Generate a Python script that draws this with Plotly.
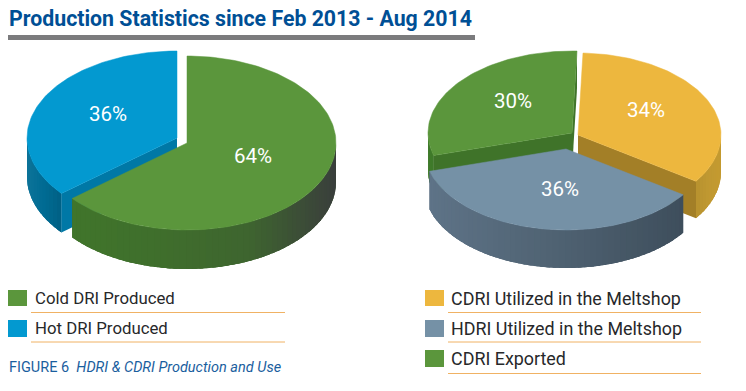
import math
import plotly.graph_objects as go

TITLE = "Production Statistics since Feb 2013 - Aug 2014"
CAPTION_HEAD = "FIGURE 6"
CAPTION_TAIL = "HDRI &amp; CDRI Production and Use"

left_labels = ["Cold DRI Produced", "Hot DRI Produced"]
left_values = [64, 36]
right_labels = ["CDRI Utilized in the Meltshop", "HDRI Utilized in the Meltshop", "CDRI Exported"]
right_values = [34, 36, 30]

FONT = "Roboto"
W, H = 746, 391

# style per slice: centre, radii, depth, top colour, face colour, wall gradient, label position
left_style = [
    dict(c=(187, 143), r=(149, 87), d=39, top="#5b963c", face="#3f7329",
         wall=["#40752b", "#3f6e2c", "#3e652f", "#3a3e3c"], label=(253, 156)),
    dict(c=(177, 138), r=(150, 87), d=39, top="#0399d0", face="#0078a6",
         wall=["#0d7399", "#006b93", "#006084"], label=(108, 114)),
]
right_style = [
    dict(c=(578, 135), r=(143, 82), d=37, top="#edb73e", face="#a37f27",
         wall=["#b8922f", "#c09831", "#c49a30"], label=(646, 110)),
    dict(c=(566, 149), r=(142, 81), d=38, top="#7591a6", face="#5e7387",
         wall=["#5e7387", "#4f6272", "#3e4e5c"], label=(560, 189)),
    dict(c=(572, 133), r=(144, 82), d=37, top="#5b963c", face="#3f7329",
         wall=["#3f7a2a", "#3f7a2a"], label=(513, 101)),
]
left_colors = ["#5b963c", "#0399d0"]
right_colors = ["#edb73e", "#7591a6", "#5b963c"]


def pt(s, a, dz=0):
    t = math.radians(a)
    return (s["c"][0] + s["r"][0] * math.sin(t), s["c"][1] - s["r"][1] * math.cos(t) + dz)


def hex2rgb(h):
    return [int(h[i:i + 2], 16) for i in (1, 3, 5)]


def ramp(stops, f):
    f = max(0, min(1, f)) * (len(stops) - 1)
    i = min(int(f), len(stops) - 2)
    a, b = hex2rgb(stops[i]), hex2rgb(stops[i + 1])
    m = f - i
    return "rgb(%d,%d,%d)" % tuple(round(a[k] + (b[k] - a[k]) * m) for k in range(3))


def poly(fig, pts, color, lw=0.0):
    xs = [p[0] for p in pts] + [pts[0][0]]
    ys = [p[1] for p in pts] + [pts[0][1]]
    fig.add_trace(go.Scatter(x=xs, y=ys, mode="lines", fill="toself", fillcolor=color,
                             line=dict(color=color, width=lw), hoverinfo="skip", showlegend=False))


def arc(s, a0, a1, dz=0):
    n = max(2, int(abs(a1 - a0) / 1.5))
    return [pt(s, a0 + (a1 - a0) * i / n, dz) for i in range(n + 1)]


def draw_slice(fig, s, a0, a1):
    # outer wall, as overlapping strips shaded left to right on a solid backing
    lo, hi = max(a0, 90), min(a1, 270)
    if hi > lo:
        xa, xb = pt(s, lo)[0], pt(s, hi)[0]
        n = max(2, int((hi - lo) / 2.5))
        poly(fig, arc(s, lo, hi) + arc(s, hi, lo, s["d"]), ramp(s["wall"], 0.5))
        order = range(n) if xa < xb else range(n - 1, -1, -1)
        for i in order:
            b0 = lo + (hi - lo) * i / n
            b1 = lo + (hi - lo) * (i + 1) / n
            col = ramp(s["wall"], (pt(s, (b0 + b1) / 2)[0] - min(xa, xb)) / abs(xa - xb))
            # each strip reaches a little under its neighbour so no seam shows
            b2 = min(hi, b1 + 1.5) if xa < xb else max(lo, b0 - 1.5)
            e0, e1 = (b0, b2) if xa < xb else (b2, b1)
            poly(fig, arc(s, e0, e1) + arc(s, e1, e0, s["d"]), col)
    # cut faces turned towards the viewer
    for a, visible in ((a0, 180 < a0 % 360 < 360), (a1, 0 < a1 % 360 < 180)):
        if visible:
            e = pt(s, a)
            poly(fig, [s["c"], e, (e[0], e[1] + s["d"]), (s["c"][0], s["c"][1] + s["d"])], s["face"])
    poly(fig, [s["c"]] + arc(s, a0, a1), s["top"], 0.5)


def angles(values, start):
    out, cur, tot = [], start, sum(values)
    for v in values:
        out.append((cur, cur + 360 * v / tot))
        cur += 360 * v / tot
    return out


fig = go.Figure()

left_angles = angles(left_values, 0)
right_angles = angles(right_values, 2)
for i in (1, 0):
    draw_slice(fig, left_style[i], *left_angles[i])
for i in (2, 0, 1):
    draw_slice(fig, right_style[i], *right_angles[i])

ann = []


def text(x, y, t, size, color, anchor="left"):
    ann.append(dict(x=x, y=y, xref="x", yref="y", text=t, showarrow=False, xanchor=anchor, yanchor="middle",
                    font=dict(family=FONT, size=size, color=color), xshift=0))


for vals, styles in ((left_values, left_style), (right_values, right_style)):
    for v, s in zip(vals, styles):
        text(s["label"][0], s["label"][1], f"{v}%", 20.5, "#ffffff", "center")

text(7, 18, f"<b>{TITLE}</b>", 21.3, "#004f95")
text(7, 367, f"{CAPTION_HEAD}  <i>{CAPTION_TAIL}</i>", 14.5, "#1a5e9e")

shapes = [dict(type="rect", x0=8, x1=475, y0=35, y1=40, xref="x", yref="y", fillcolor="#7b7b7d", line_width=0)]
rows = [(290, 306, 298, 312.5), (320, 337, 328, 342), (350, 367, 358, 373.5)]


def legend(labels, colors, sx0, sx1, tx, lx0, lx1, size):
    for lab, col, (y0, y1, ty, ly) in zip(labels, colors, rows):
        shapes.append(dict(type="rect", x0=sx0, x1=sx1, y0=y0, y1=y1, xref="x", yref="y", fillcolor=col, line_width=0))
        shapes.append(dict(type="line", x0=lx0, x1=lx1, y0=ly, y1=ly, xref="x", yref="y",
                           line=dict(color="#f0b264", width=1)))
        text(tx, ty, lab, size, "#27282a")


legend(left_labels, left_colors, 8, 27, 33, 31, 285, 16.8)
legend(right_labels, right_colors, 425, 444, 449, 448, 701, 17.9)

fig.update_layout(
    width=W, height=H, margin=dict(l=0, r=0, t=0, b=0), autosize=False,
    paper_bgcolor="white", plot_bgcolor="white", showlegend=False,
    xaxis=dict(range=[0, W], visible=False, fixedrange=True),
    yaxis=dict(range=[H, 0], visible=False, fixedrange=True),
    annotations=ann, shapes=shapes,
)
fig.write_html("out.html", config=dict(displayModeBar=False),
               post_script="document.body.style.margin='0';document.documentElement.style.overflow='hidden';")
